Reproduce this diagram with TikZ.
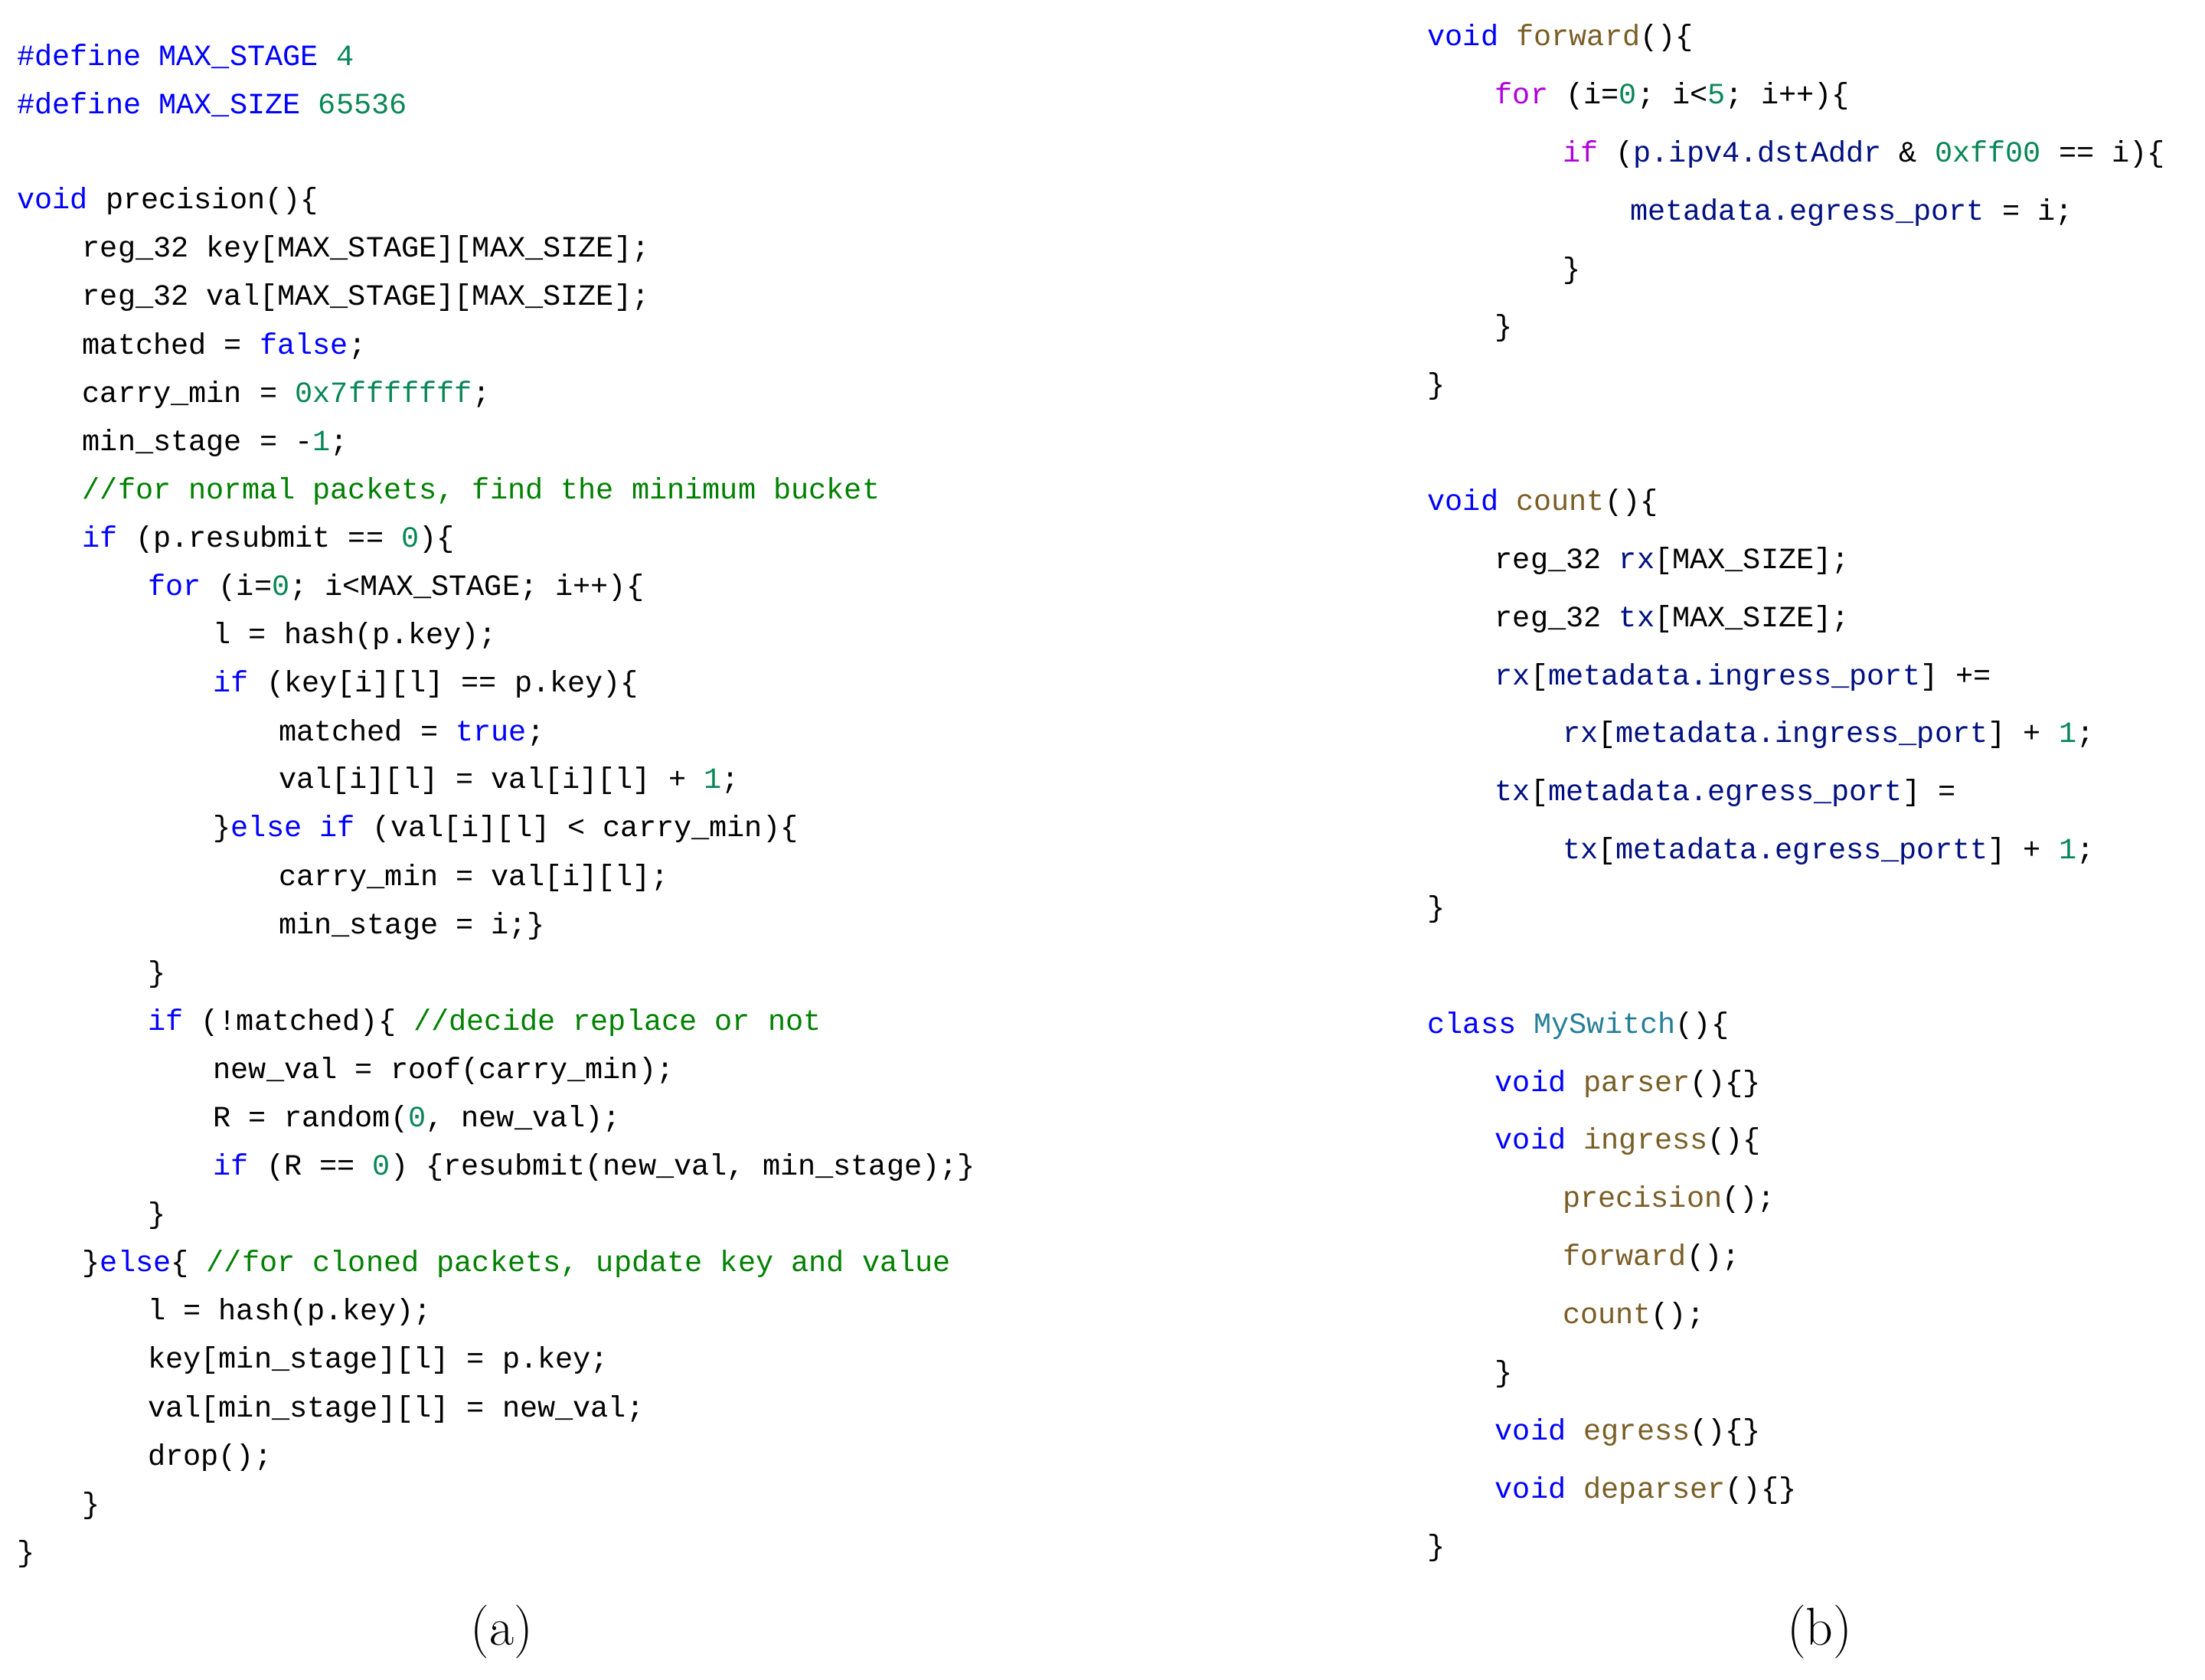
\documentclass[tikz,border=0pt]{standalone}
\usepackage{fontspec}
\setmonofont{Liberation Mono}
\definecolor{ckw}{HTML}{0000FF}
\definecolor{cnum}{HTML}{098658}
\definecolor{ccm}{HTML}{008000}
\definecolor{cfn}{HTML}{795E26}
\definecolor{cctl}{HTML}{AF00DB}
\definecolor{cvar}{HTML}{001080}
\definecolor{ccls}{HTML}{267F99}
\newcommand{\kw}[1]{\textcolor{ckw}{#1}}
\newcommand{\nm}[1]{\textcolor{cnum}{#1}}
\newcommand{\cmt}[1]{\textcolor{ccm}{#1}}
\newcommand{\fnm}[1]{\textcolor{cfn}{#1}}
\newcommand{\ctlk}[1]{\textcolor{cctl}{#1}}
\newcommand{\vrb}[1]{\textcolor{cvar}{#1}}
\newcommand{\clsn}[1]{\textcolor{ccls}{#1}}
\tikzset{code/.style={anchor=west,inner sep=0pt,font=\fontsize{21}{24}\selectfont\ttfamily},
 lab/.style={inner sep=0pt,font=\fontsize{38}{44}\selectfont}}
\begin{document}
\begin{tikzpicture}[x=1pt,y=-1pt]
\useasboundingbox (0,0) rectangle (1568,1194);
\def\L#1#2#3{\node[code] (a#1) at ({12+46.5*#2},{40+34.35*#1}) {#3};}
\def\R#1#2#3{\node[code] (b#1) at ({1015+48*#2},{27+41.3*#1}) {#3};}
\L{0}{0}{\kw{\#define MAX\_STAGE} \nm{4}}
\L{1}{0}{\kw{\#define MAX\_SIZE} \nm{65536}}
\L{3}{0}{\kw{void} precision()\{}
\L{4}{1}{reg\_32 key[MAX\_STAGE][MAX\_SIZE];}
\L{5}{1}{reg\_32 val[MAX\_STAGE][MAX\_SIZE];}
\L{6}{1}{matched = \kw{false};}
\L{7}{1}{carry\_min = \nm{0x7fffffff};}
\L{8}{1}{min\_stage = -\nm{1};}
\L{9}{1}{\cmt{//for normal packets, find the minimum bucket}}
\L{10}{1}{\kw{if} (p.resubmit == \nm{0})\{}
\L{11}{2}{\kw{for} (i=\nm{0}; i<MAX\_STAGE; i++)\{}
\L{12}{3}{l = hash(p.key);}
\L{13}{3}{\kw{if} (key[i][l] == p.key)\{}
\L{14}{4}{matched = \kw{true};}
\L{15}{4}{val[i][l] = val[i][l] + \nm{1};}
\L{16}{3}{\}\kw{else if} (val[i][l] < carry\_min)\{}
\L{17}{4}{carry\_min = val[i][l];}
\L{18}{4}{min\_stage = i;\}}
\L{19}{2}{\}}
\L{20}{2}{\kw{if} (!matched)\{ \cmt{//decide replace or not}}
\L{21}{3}{new\_val = roof(carry\_min);}
\L{22}{3}{R = random(\nm{0}, new\_val);}
\L{23}{3}{\kw{if} (R == \nm{0}) \{resubmit(new\_val, min\_stage);\}}
\L{24}{2}{\}}
\L{25}{1}{\}\kw{else}\{ \cmt{//for cloned packets, update key and value}}
\L{26}{2}{l = hash(p.key);}
\L{27}{2}{key[min\_stage][l] = p.key;}
\L{28}{2}{val[min\_stage][l] = new\_val;}
\L{29}{2}{drop();}
\L{30}{1}{\}}
\L{31}{0}{\}}
\R{0}{0}{\kw{void} \fnm{forward}()\{}
\R{1}{1}{\ctlk{for} (i=\nm{0}; i<\nm{5}; i++)\{}
\R{2}{2}{\ctlk{if} (\vrb{p.ipv4.dstAddr} \& \nm{0xff00} == i)\{}
\R{3}{3}{\vrb{metadata.egress\_port} = i;}
\R{4}{2}{\}}
\R{5}{1}{\}}
\R{6}{0}{\}}
\R{8}{0}{\kw{void} \fnm{count}()\{}
\R{9}{1}{reg\_32 \vrb{rx}[MAX\_SIZE];}
\R{10}{1}{reg\_32 \vrb{tx}[MAX\_SIZE];}
\R{11}{1}{\vrb{rx}[\vrb{metadata.ingress\_port}] +=}
\R{12}{2}{\vrb{rx}[\vrb{metadata.ingress\_port}] + \nm{1};}
\R{13}{1}{\vrb{tx}[\vrb{metadata.egress\_port}] =}
\R{14}{2}{\vrb{tx}[\vrb{metadata.egress\_portt}] + \nm{1};}
\R{15}{0}{\}}
\R{17}{0}{\kw{class} \clsn{MySwitch}()\{}
\R{18}{1}{\kw{void} \fnm{parser}()\{\}}
\R{19}{1}{\kw{void} \fnm{ingress}()\{}
\R{20}{2}{\fnm{precision}();}
\R{21}{2}{\fnm{forward}();}
\R{22}{2}{\fnm{count}();}
\R{23}{1}{\}}
\R{24}{1}{\kw{void} \fnm{egress}()\{\}}
\R{25}{1}{\kw{void} \fnm{deparser}()\{\}}
\R{26}{0}{\}}
\node[lab] (la) at (357,1160) {(a)};
\node[lab] (lb) at (1294,1160) {(b)};
\end{tikzpicture}
\end{document}
